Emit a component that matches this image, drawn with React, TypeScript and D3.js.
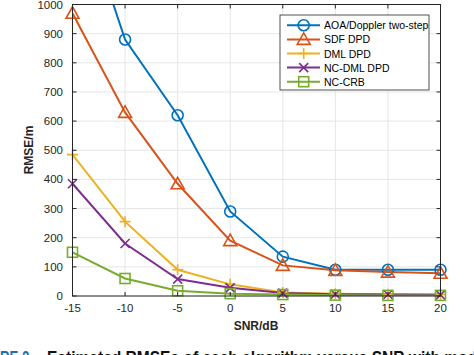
import React from "react";
import * as d3 from "d3";

const snr = [-15, -10, -5, 0, 5, 10, 15, 20];
const aoaDoppler = [1420, 880, 620, 290, 135, 90, 90, 90];
const sdfDpd = [970, 630, 385, 190, 105, 88, 82, 78];
const dmlDpd = [485, 255, 90, 40, 12, 8, 6, 5];
const ncDmlDpd = [385, 180, 58, 28, 10, 6, 5, 4];
const ncCrb = [150, 60, 18, 8, 5, 3, 2, 2];
const seriesNames = ["AOA/Doppler two-step", "SDF DPD", "DML DPD", "NC-DML DPD", "NC-CRB"];
const xTicks = [-15, -10, -5, 0, 5, 10, 15, 20];
const yTicks = [0, 100, 200, 300, 400, 500, 600, 700, 800, 900, 1000];

const colors = ["#0072BD", "#D95319", "#EDB120", "#7E2F8E", "#77AC30"];
const markers = ["circle", "triangle", "plus", "x", "square"];

const W = 474, H = 355;
const L = 72.5, R = 440.5, T = 4.5, B = 296;

function Marker({ type, x, y, color }: { type: string; x: number; y: number; color: string }) {
  const s = 5.5;
  const common = { fill: "none", stroke: color, strokeWidth: 1.6 };
  if (type === "circle") return <circle cx={x} cy={y} r={5.5} {...common} />;
  if (type === "triangle")
    return <path d={`M${x},${y - 6.5}L${x + 6.5},${y + 5}L${x - 6.5},${y + 5}Z`} {...common} />;
  if (type === "plus")
    return <path d={`M${x - s},${y}L${x + s},${y}M${x},${y - s}L${x},${y + s}`} {...common} />;
  if (type === "x")
    return <path d={`M${x - 4.5},${y - 4.5}L${x + 4.5},${y + 4.5}M${x - 4.5},${y + 4.5}L${x + 4.5},${y - 4.5}`} {...common} />;
  return <rect x={x - 5} y={y - 5} width={10} height={10} {...common} />;
}

export default function App() {
  const x = d3.scaleLinear().domain([-15, 20]).range([L, R]);
  const y = d3.scaleLinear().domain([0, 1000]).range([B, T]);
  const all = [aoaDoppler, sdfDpd, dmlDpd, ncDmlDpd, ncCrb];
  const line = d3.line<number>().x((_, i) => x(snr[i])).y((d) => y(d));
  const font = "'Liberation Sans', Arial, Helvetica, sans-serif";
  const axisColor = "#262626";

  return (
    <svg width={W} height={H} style={{ position: "absolute", left: 0, top: 0, background: "#fff" }} fontFamily={font}>
      <defs>
        <clipPath id="plot">
          <rect x={L} y={T} width={R - L} height={B - T} />
        </clipPath>
      </defs>
      <rect x={0} y={0} width={W} height={H} fill="#fff" />
      {xTicks.map((t) => (
        <line key={"gx" + t} x1={x(t)} x2={x(t)} y1={T} y2={B} stroke="#e6e6e6" strokeWidth={1} />
      ))}
      {yTicks.map((t) => (
        <line key={"gy" + t} x1={L} x2={R} y1={y(t)} y2={y(t)} stroke="#e6e6e6" strokeWidth={1} />
      ))}
      <g clipPath="url(#plot)">
        {all.map((vals, si) => (
          <path key={"l" + si} d={line(vals) || ""} fill="none" stroke={colors[si]} strokeWidth={2} />
        ))}
      </g>
      {all.map((vals, si) =>
        vals.map((v, i) =>
          v <= 1000 ? <Marker key={"m" + si + "_" + i} type={markers[si]} x={x(snr[i])} y={y(v)} color={colors[si]} /> : null
        )
      )}
      <rect x={L} y={T} width={R - L} height={B - T} fill="none" stroke={axisColor} strokeWidth={1} />
      {xTicks.map((t) => (
        <g key={"tx" + t}>
          <line x1={x(t)} x2={x(t)} y1={B} y2={B - 4} stroke={axisColor} />
          <line x1={x(t)} x2={x(t)} y1={T} y2={T + 4} stroke={axisColor} />
          <text x={x(t)} y={312} fontSize={11.5} textAnchor="middle" fill={axisColor}>{t}</text>
        </g>
      ))}
      {yTicks.map((t) => (
        <g key={"ty" + t}>
          <line x1={L} x2={L + 4} y1={y(t)} y2={y(t)} stroke={axisColor} />
          <line x1={R} x2={R - 4} y1={y(t)} y2={y(t)} stroke={axisColor} />
          <text x={63} y={y(t) + 4} fontSize={11.5} textAnchor="end" fill={axisColor}>{t}</text>
        </g>
      ))}
      <text x={256} y={330} fontSize={12} fontWeight="bold" textAnchor="middle" fill={axisColor}>SNR/dB</text>
      <text transform={`translate(33,${150}) rotate(-90)`} fontSize={12} fontWeight="bold" textAnchor="middle" fill={axisColor}>RMSE/m</text>
      <rect x={280} y={15} width={149} height={75} fill="#fff" stroke={axisColor} strokeWidth={0.8} />
      {seriesNames.map((n, i) => {
        const ly = 25.3 + i * 14.1;
        return (
          <g key={"lg" + i}>
            <line x1={287} x2={320} y1={ly} y2={ly} stroke={colors[i]} strokeWidth={2} />
            <Marker type={markers[i]} x={303.7} y={ly} color={colors[i]} />
            <text x={324} y={ly + 4} fontSize={10.5} fill="#000">{n}</text>
          </g>
        );
      })}
      <text x={0} y={364} fontSize={19} fontWeight="bold" fill="#1f6fb5" textLength={33} lengthAdjust="spacingAndGlyphs">RE 2.</text>
      <text x={47} y={364} fontSize={19} fontWeight="bold" fill="#111" textLength={430} lengthAdjust="spacingAndGlyphs">
        Estimated RMSEs of each algorithm versus SNR with mod
      </text>
    </svg>
  );
}
